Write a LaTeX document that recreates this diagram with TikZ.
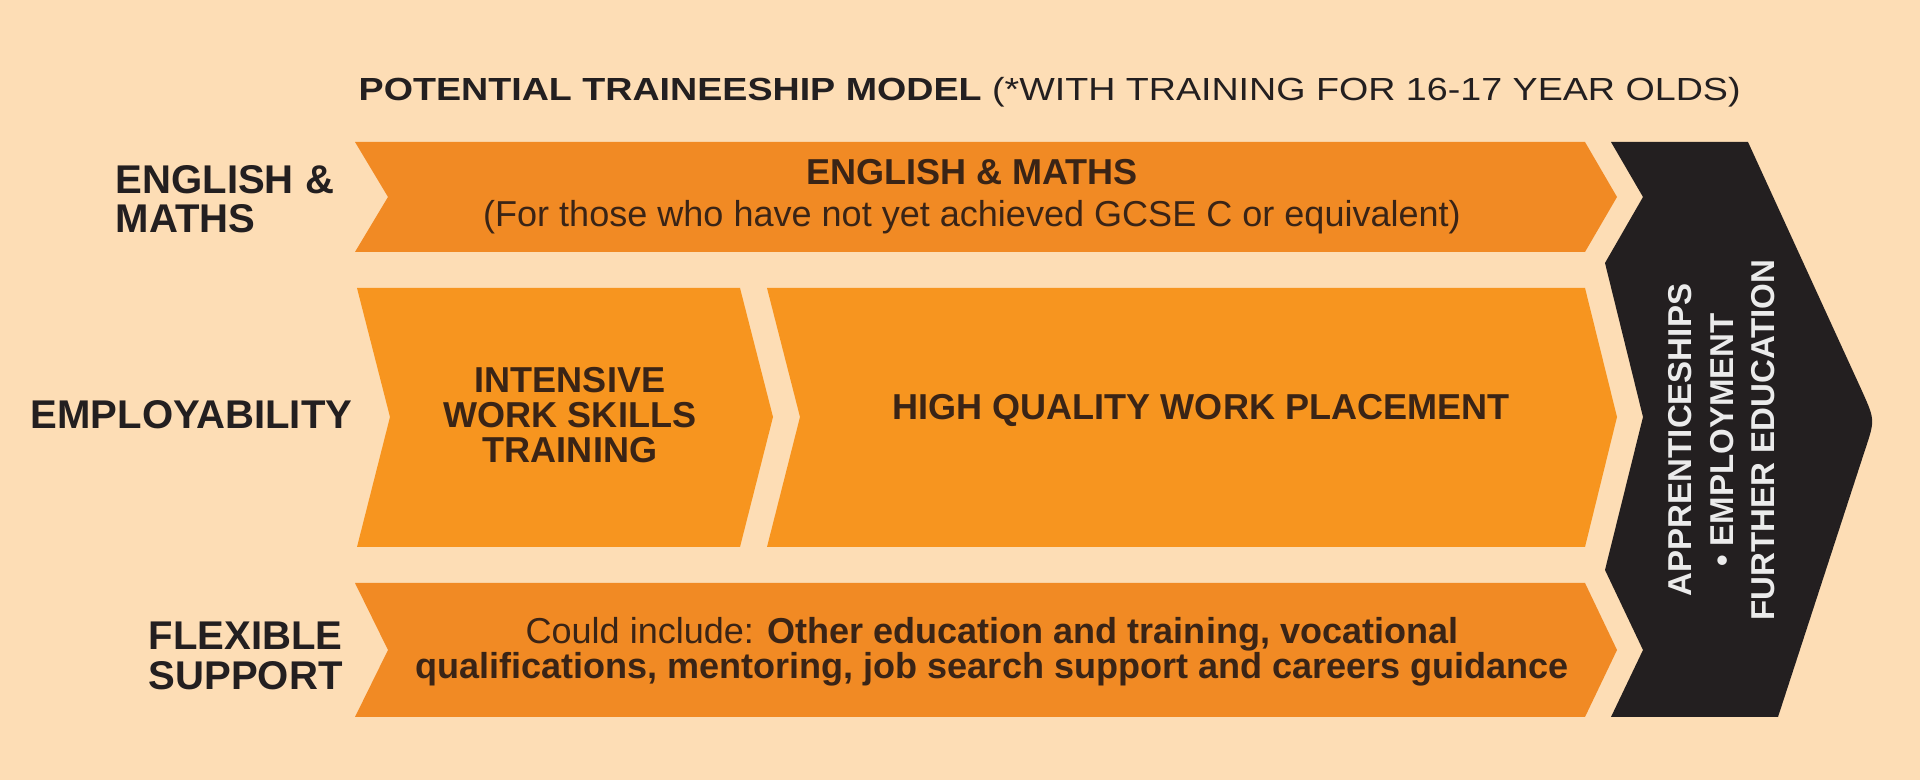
\documentclass[tikz,border=0pt]{standalone}
\usepackage{fontspec}
\setmainfont{Liberation Sans}
\usepackage{xcolor}
\usepackage{graphicx}
\usepackage{tikz}
\usetikzlibrary{positioning}

\definecolor{peach}{HTML}{FDDDB5}
\definecolor{darkorange}{HTML}{F18A24}
\definecolor{lightorange}{HTML}{F7951F}
\definecolor{nearblack}{HTML}{231F20}
\definecolor{darkbrown}{HTML}{3A2416}

\begin{document}
\begin{tikzpicture}[
        x=0.01cm, y=-0.01cm,
        rowlabel/.style={
            inner sep=0pt, anchor=west, align=left, text=nearblack,
            font=\fontsize{11.4pt}{11.2pt}\selectfont\bfseries
        },
        bartext/.style={
            inner sep=0pt, align=center, text=darkbrown
        }
    ]
    \useasboundingbox (0,0) rectangle (1920,780);
    \fill[peach] (0,0) rectangle (1920,780);

    \fill[darkorange] (355,142) -- (1585,142) -- (1617,197) -- (1585,252) -- (355,252) -- (388,197) -- cycle;
    \fill[lightorange] (357,288) -- (740,288) -- (773,417) -- (740,547) -- (357,547) -- (390,417) -- cycle;
    \fill[lightorange] (767,288) -- (1585,288) -- (1617,417) -- (1585,547) -- (767,547) -- (800,417) -- cycle;
    \fill[darkorange] (355,583) -- (1585,583) -- (1617,650) -- (1585,717) -- (355,717) -- (388,650) -- cycle;
    \fill[nearblack] (1611,142) -- (1748,142) -- (1862,391) .. controls (1875,420) .. (1865,450)
        -- (1778,717) -- (1611,717) -- (1643,650) -- (1605,570) -- (1643,417) -- (1605,263) -- (1643,197) -- cycle;

    \node[anchor=west, inner sep=0pt, text=nearblack] (title) at (358,92) {%
        \scalebox{1}[0.85]{\fontsize{10.7pt}{10.7pt}\selectfont
        \textbf{POTENTIAL TRAINEESHIP MODEL} (*WITH TRAINING FOR 16-17 YEAR OLDS)}};

    \node[rowlabel] (lblenglish) at (115,199) {ENGLISH \&\\MATHS};
    \node[rowlabel] (lblemploy) at (30,415) {EMPLOYABILITY};
    \node[rowlabel] (lblsupport) at (148,656) {FLEXIBLE\\SUPPORT};

    \node[bartext, font=\fontsize{10.25pt}{12pt}\selectfont] (englishtext) at (972,197)
        {\textbf{ENGLISH \& MATHS}\\(For those who have not yet achieved GCSE C or equivalent)};
    \node[bartext, font=\fontsize{10.25pt}{10pt}\selectfont\bfseries] (intensive) at (570,415)
        {INTENSIVE\\WORK SKILLS\\TRAINING};
    \node[bartext, font=\fontsize{10.25pt}{10pt}\selectfont\bfseries] (placement) at (1201,410)
        {HIGH QUALITY WORK PLACEMENT};
    \node[bartext, font=\fontsize{10.25pt}{10pt}\selectfont] (supporttext) at (992,652)
        {Could include: \textbf{Other education and training, vocational}\\
         \textbf{qualifications, mentoring, job search support and careers guidance}};

    \node[rotate=90, inner sep=0pt, align=center, text=white!92!black,
        font=\fontsize{9.4pt}{11.8pt}\selectfont\bfseries] (outcomes) at (1722,440)
        {APPRENTICESHIPS\\• EMPLOYMENT\\FURTHER EDUCATION};
\end{tikzpicture}
\end{document}
